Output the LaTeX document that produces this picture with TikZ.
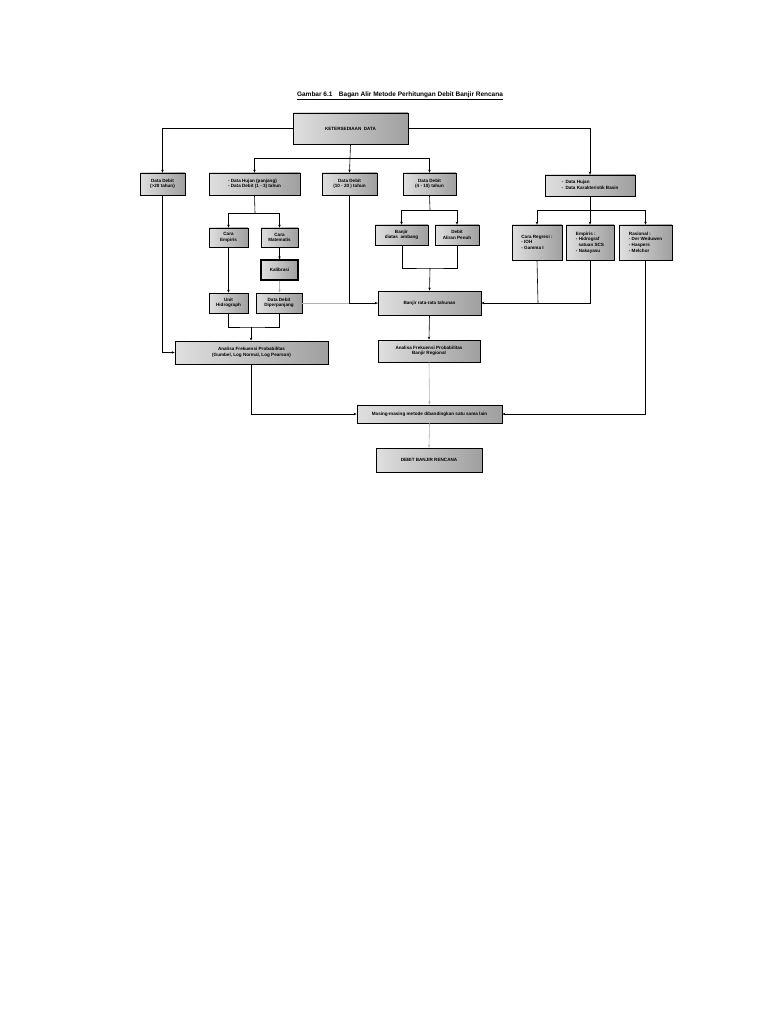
\documentclass[tikz,border=0pt]{standalone}
\usepackage{fontspec}
\setmainfont{Liberation Sans}
\usetikzlibrary{arrows.meta,shadows}
\newcommand{\bx}[7][]{\node[bxs,#1,minimum width=#4-#2,minimum height=#5-#3] (#6) at ({(#2+#4)/2},{(#3+#5)/2}) {#7};}
\begin{document}
\begin{tikzpicture}[x=1pt,y=-1pt,
 bxs/.style={draw=black,line width=0.7pt,left color=gray!25,right color=gray!75,inner sep=1pt,align=center,font=\fontsize{4.6}{5.6}\selectfont\bfseries,drop shadow={shadow xshift=1pt,shadow yshift=-1pt,opacity=0.6}},
 ar/.style={-{Stealth[length=3pt,width=2.5pt]},line width=0.6pt},
 ln/.style={line width=0.6pt},
 gr/.style={draw=gray!60,line width=0.6pt}]
\useasboundingbox (0,0) rectangle (768,1024);
\node[font=\fontsize{6.5}{7}\selectfont\bfseries] (title) at (400,96) {\underline{Gambar 6.1\quad Bagan Alir Metode Perhitungan Debit Banjir Rencana}};
\bx{293}{113}{408}{144}{ket}{KETERSEDIAAN\ \ DATA}
\bx{140}{173}{185}{195}{d20}{Data Debit\\(>20 tahun)}
\bx{209}{173}{300}{195}{dh}{\begin{tabular}{@{}l@{}}- Data Hujan (panjang)\\- Data Debit (1 - 3) tahun\end{tabular}}
\bx{322}{173}{377}{195}{d1020}{Data Debit\\(10 - 20 ) tahun}
\bx{403}{173}{456}{195}{d410}{Data Debit\\(4 - 10) tahun}
\bx{545}{175}{635}{196}{dhb}{\begin{tabular}{@{}l@{}}-\ \ Data Hujan\\-\ \ Data Karakteristik Basin\end{tabular}}
\bx{209}{228}{248}{247}{ce}{Cara\\Empiris}
\bx{261}{228}{298}{247}{cm}{Cara\\Matematis}
\bx[line width=1.3pt]{261}{260}{298}{280}{kal}{Kalibrasi}
\bx{209}{293}{248}{313}{uh}{Unit\\Hidrograph}
\bx{256}{293}{302}{313}{ddp}{Data Debit\\Diperpanjang}
\bx{375}{225}{428}{245}{bda}{Banjir\\diatas\ \ ambang}
\bx{435}{225}{479}{245}{dap}{Debit\\Aliran Penuh}
\bx{512}{225}{562}{260}{cr}{\begin{tabular}{@{}l@{}}Cara Regresi :\\- IOH\\- Gamma I\end{tabular}}
\bx{566}{225}{614}{260}{emp}{\begin{tabular}{@{}l@{}}Empiris :\\- Hidrograf\\\ \ satuan SCS\\- Nakayasu\end{tabular}}
\bx{619}{225}{672}{260}{ras}{\begin{tabular}{@{}l@{}}Rasional :\\- Der Weduwen\\- Haspers\\- Melchor\end{tabular}}
\bx{378}{291}{481}{315}{brt}{Banjir rata-rata tahunan}
\bx{175}{341}{328}{364}{afg}{Analisa Frekuensi Probabilitas\\(Gumbel, Log Normal, Log Pearson)}
\bx{378}{340}{480}{362}{afr}{Analisa Frekuensi Probabilitas\\Banjir Regional}
\bx{357}{405}{502}{423}{mm}{Masing-masing metode dibandingkan satu sama lain}
\bx{376}{448}{482}{472}{dbr}{DEBIT BANJIR RENCANA}
% connectors
\draw[ar] (ket.west) -| (d20.north);
\draw[ar] (ket.east) -| (dhb.north);
\coordinate (k1) at (350,158);
\draw[ln] (ket.south) -- (k1);
\draw[ar] (k1) -- (d1020.north);
\draw[ar] (k1) -| (dh.north);
\draw[ar] (k1) -| (d410.north);
\coordinate (h1) at (255,213);
\draw[ln] (dh.south) -- (h1);
\draw[ar] (h1) -| (ce.north);
\draw[ar] (h1) -| (cm.north);
\draw[ar] (cm.south) -- (kal.north);
\draw[ar,draw=gray!60] (kal.south) -- (ddp.north -| kal.south);
\draw[ar] (ce.south) -- (uh.north);
\coordinate (u1) at (251,327);
\draw[ln] (uh.south) |- (u1) -| (ddp.south);
\draw[ar] (u1) -- (afg.north -| u1);
\draw[ar] (d20.south) |- (afg.west);
\draw[gr] (ddp.east) -- (brt.west);
\draw[ar] (d1020.south) |- (brt.west);
\coordinate (f1) at (430,210);
\draw[ln] (d410.south) -- (f1);
\draw[ar] (f1) -| (bda.north);
\draw[ar] (f1) -| (dap.north);
\coordinate (f2) at (430,268);
\draw[ln] (bda.south -| 402,0) |- (f2) -| (dap.south -| 457,0);
\draw[ar] (f2) -- (brt.north);
\coordinate (b1) at (590,210);
\draw[ln] (dhb.south -| b1) -- (b1);
\draw[ar] (b1) -| (cr.north);
\draw[ar] (b1) -- (emp.north -| b1);
\draw[ar] (b1) -| (ras.north);
\coordinate (b2) at (538,303);
\draw[ln] (cr.south) -- (b2);
\draw[ln] (emp.south -| b1) |- (b2);
\draw[ar] (b2) -- (brt.east);
\draw[ar] (ras.south) |- (mm.east);
\draw[ar] (brt.south) -- (afr.north);
\draw[ar,draw=gray!60] (afr.south) -- (mm.north);
\draw[ar] (afg.south -| u1) |- (mm.west);
\draw[ar,draw=gray!60] (mm.south) -- (dbr.north);
\end{tikzpicture}
\end{document}
